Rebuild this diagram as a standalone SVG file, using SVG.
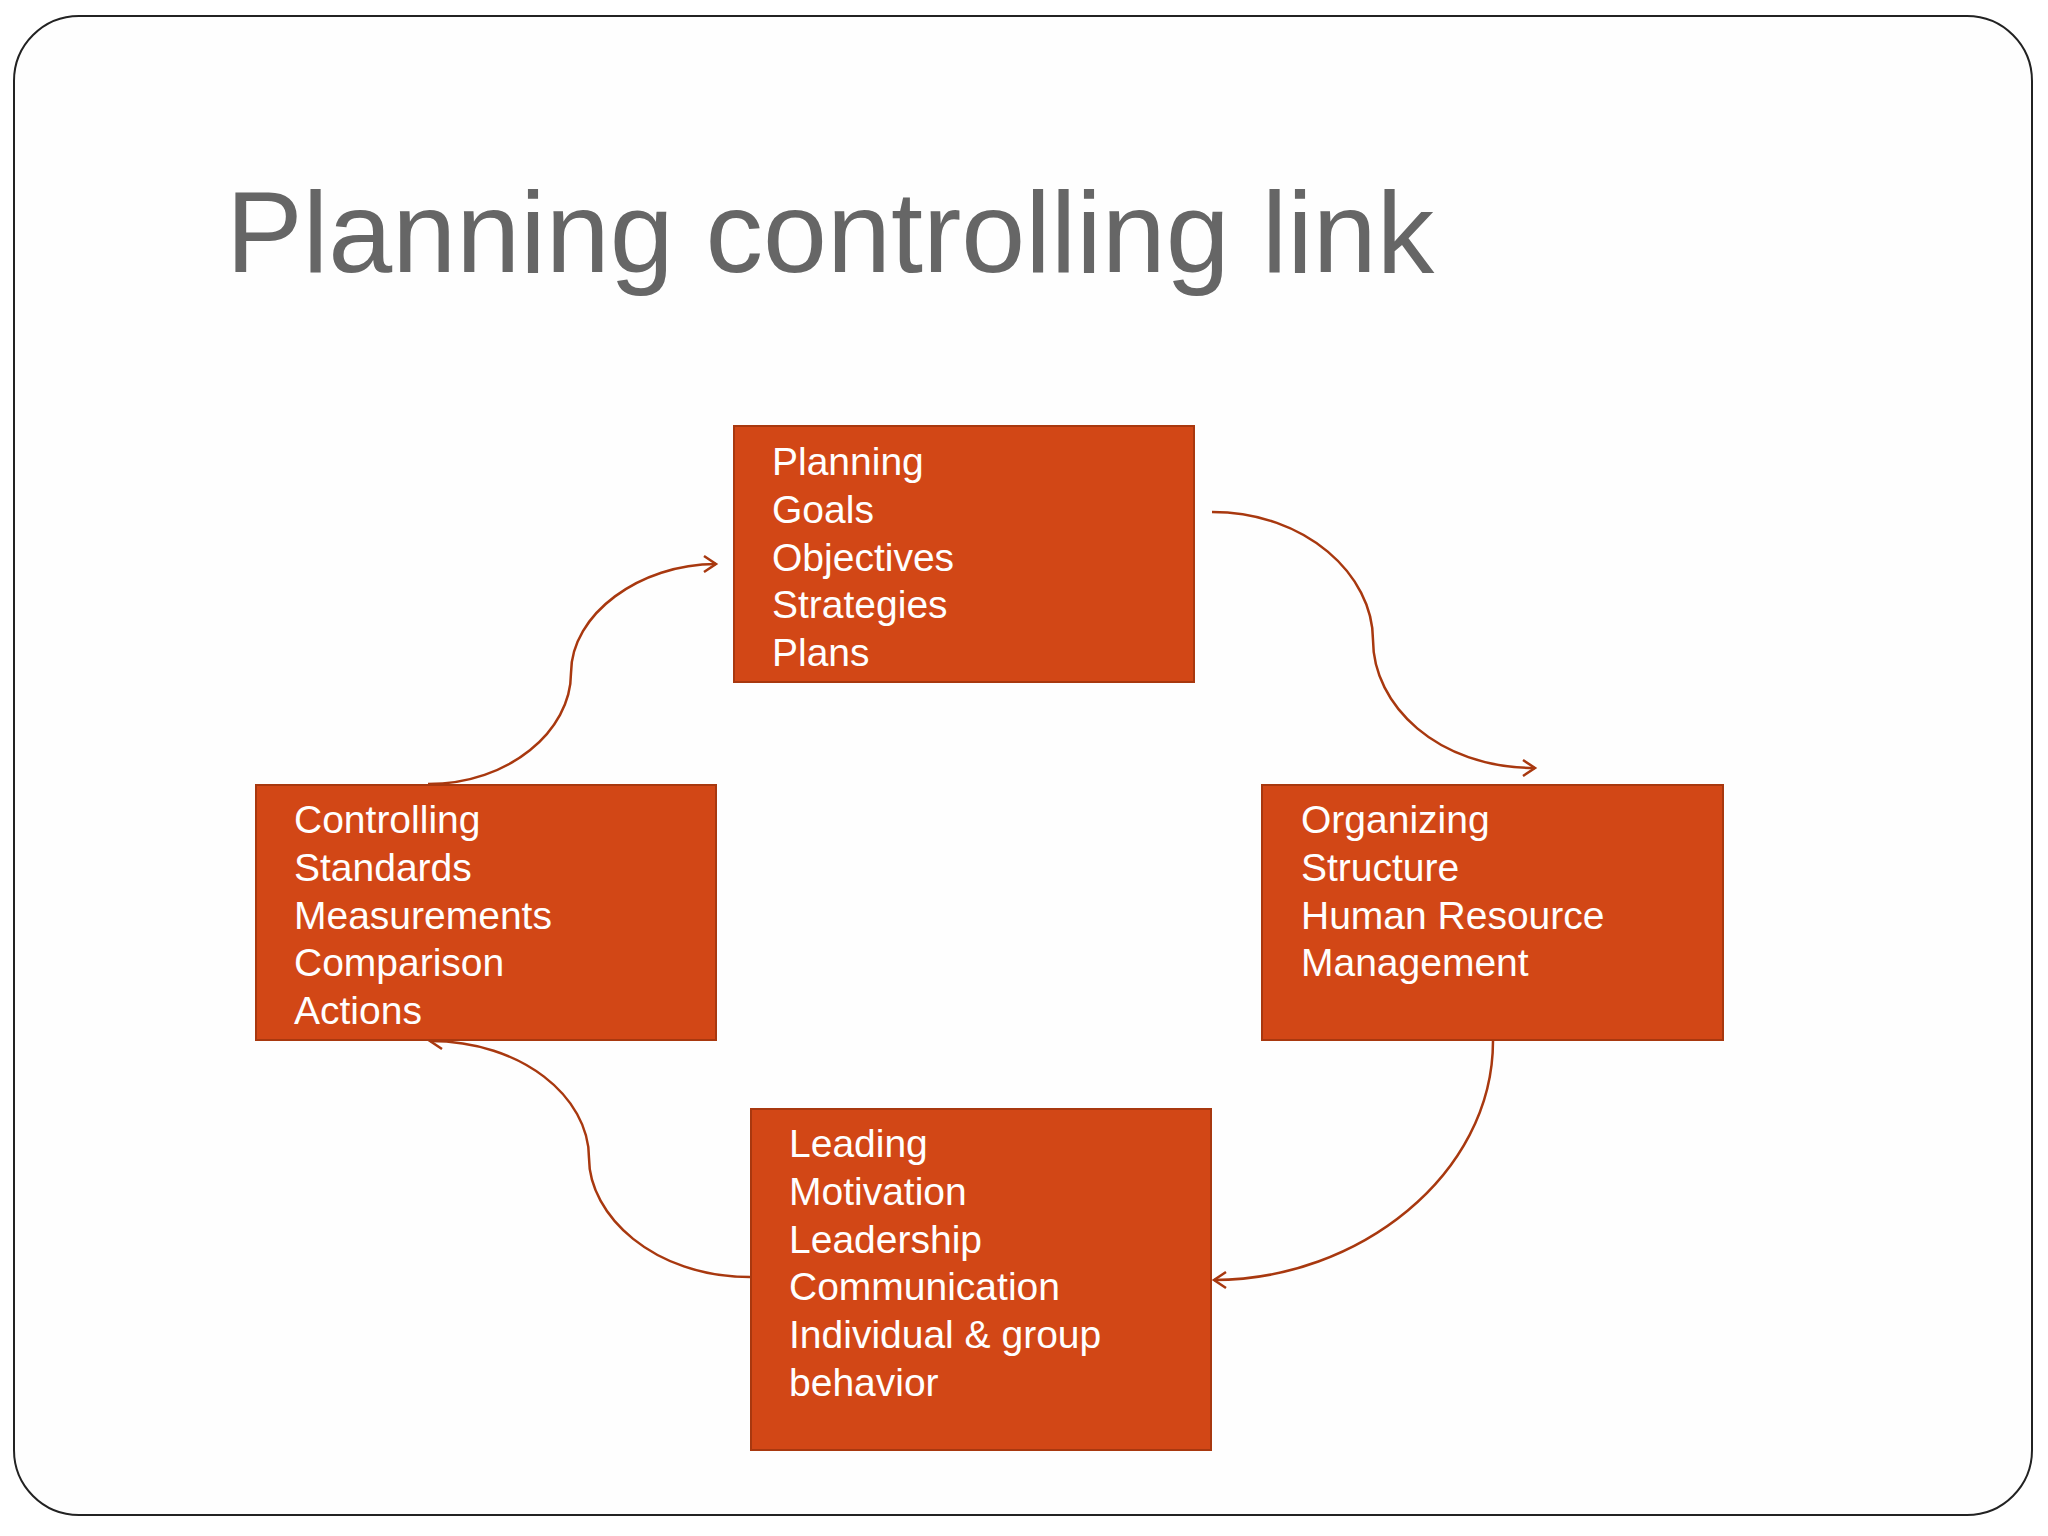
<svg xmlns="http://www.w3.org/2000/svg" width="2048" height="1536" viewBox="0 0 2048 1536">
<style>
.box{fill:#D24716;stroke:#A8380F;stroke-width:2}
.t{font-family:"Liberation Sans",Arial,sans-serif;font-size:39px;fill:#fff}
.c{fill:none;stroke:#A8380F;stroke-width:2.5;marker-end:url(#a)}
</style>
<defs>
<marker id="a" markerWidth="20" markerHeight="20" refX="14" refY="10" orient="auto" markerUnits="userSpaceOnUse">
<path d="M2,2 L14,10 L2,18" fill="none" stroke="#A8380F" stroke-width="2.5"/>
</marker>
</defs>
<rect x="0" y="0" width="2048" height="1536" fill="#fff"/>
<rect x="14" y="16" width="2018" height="1499" rx="65" fill="#fefefe" stroke="#222" stroke-width="2"/>
<text x="226" y="272" font-family="'Liberation Sans',Arial,sans-serif" font-size="115" fill="#666">Planning controlling link</text>
<g id="connectors">
<path class="c" d="M1212,512 C1306,512 1373,575 1373,640 C1373,705 1437,768 1535,768"/>
<path class="c" d="M1493,1041 C1493,1175 1358,1280 1214,1280"/>
<path class="c" d="M750,1277 C653,1277 589,1215 589,1158 C589,1097 522,1041 430,1041"/>
<path class="c" d="M428,784 C509,784 571,731 571,673 C571,614 640,564 716,564"/>
</g>
<g id="planning">
<rect class="box" x="734" y="426" width="460" height="256"/>
<text class="t" x="772" y="475">Planning<tspan x="772" dy="47.8">Goals</tspan><tspan x="772" dy="47.8">Objectives</tspan><tspan x="772" dy="47.8">Strategies</tspan><tspan x="772" dy="47.8">Plans</tspan></text>
</g>
<g id="organizing">
<rect class="box" x="1262" y="785" width="461" height="255"/>
<text class="t" x="1301" y="833">Organizing<tspan x="1301" dy="47.8">Structure</tspan><tspan x="1301" dy="47.8">Human Resource</tspan><tspan x="1301" dy="47.8">Management</tspan></text>
</g>
<g id="leading">
<rect class="box" x="751" y="1109" width="460" height="341"/>
<text class="t" x="789" y="1157">Leading<tspan x="789" dy="47.8">Motivation</tspan><tspan x="789" dy="47.8">Leadership</tspan><tspan x="789" dy="47.8">Communication</tspan><tspan x="789" dy="47.8">Individual &amp; group</tspan><tspan x="789" dy="47.8">behavior</tspan></text>
</g>
<g id="controlling">
<rect class="box" x="256" y="785" width="460" height="255"/>
<text class="t" x="294" y="833">Controlling<tspan x="294" dy="47.8">Standards</tspan><tspan x="294" dy="47.8">Measurements</tspan><tspan x="294" dy="47.8">Comparison</tspan><tspan x="294" dy="47.8">Actions</tspan></text>
</g>
</svg>
